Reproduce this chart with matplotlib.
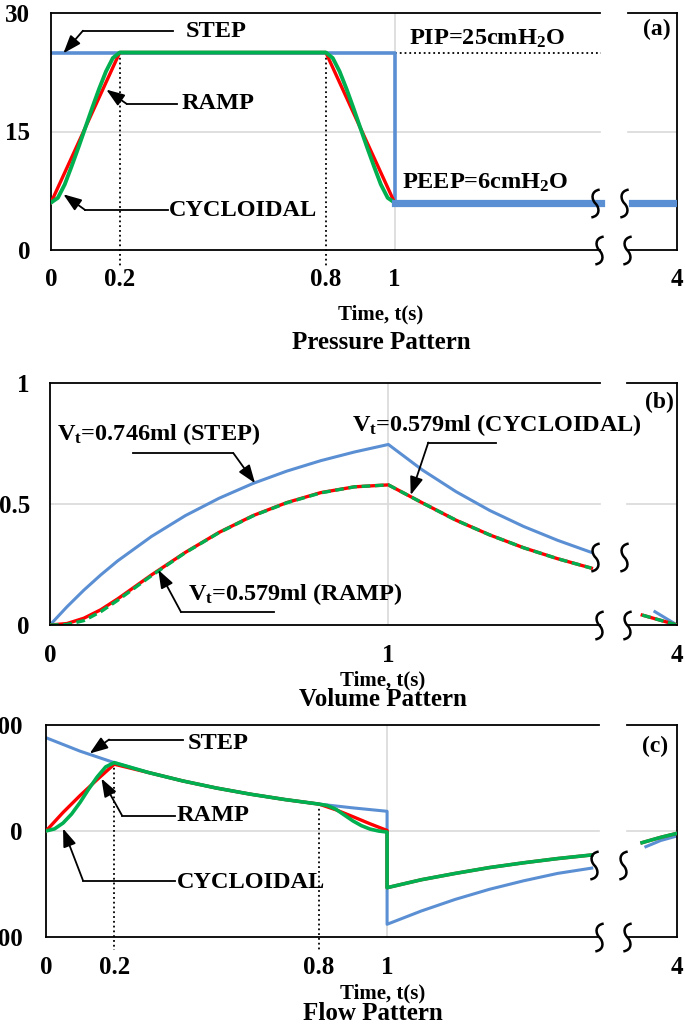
import numpy as np
import matplotlib
matplotlib.use('Agg')
import matplotlib.pyplot as plt
from matplotlib.path import Path

plt.rcParams['font.family'] = ['Liberation Serif', 'DejaVu Serif']
plt.rcParams['font.weight'] = 'bold'
plt.rcParams['mathtext.fontset'] = 'custom'
plt.rcParams['mathtext.rm'] = 'Liberation Serif:bold'
plt.rcParams['mathtext.it'] = 'Liberation Serif:bold'
plt.rcParams['mathtext.bf'] = 'Liberation Serif:bold'

BLUE = '#5B8FD3'
RED = '#FF0000'
GREEN = '#00B050'
GRID = '#D9D9D9'

# ---------------- data ----------------
# (a) pressure, cmH2O
t_step_p = [0, 1.0, 1.0]
p_step = [25, 25, 6]
t_peep = [1.0, 1.6]
t_peep_tail = [3.8, 4.0]
p_peep = [6, 6]
t_ramp_p = [0, 0.2, 0.8, 1.0]
p_ramp = [6, 25, 25, 6]
t_cyc_p = [0, 0.02, 0.04, 0.06, 0.08, 0.10, 0.12, 0.14, 0.16, 0.18, 0.20,
           0.80, 0.82, 0.84, 0.86, 0.88, 0.90, 0.92, 0.94, 0.96, 0.98, 1.00]
p_cyc = [6.0, 6.6, 8.3, 10.6, 13.0, 15.5, 18.0, 20.4, 22.6, 24.3, 25.0,
         25.0, 24.3, 22.6, 20.4, 18.0, 15.5, 13.0, 10.6, 8.3, 6.6, 6.0]

# (b) volume, ml
t_vol = [0, 0.05, 0.1, 0.15, 0.2, 0.3, 0.4, 0.5, 0.6, 0.7, 0.8, 0.9, 1.0,
         1.1, 1.2, 1.3, 1.4, 1.5, 1.6]
v_step = [0, 0.075, 0.144, 0.207, 0.265, 0.366, 0.452, 0.524, 0.585, 0.636,
          0.679, 0.715, 0.746, 0.641, 0.551, 0.473, 0.407, 0.350, 0.300]
v_ramp = [0, 0.006, 0.028, 0.063, 0.108, 0.207, 0.300, 0.383, 0.452, 0.506,
          0.547, 0.571, 0.579, 0.505, 0.433, 0.372, 0.319, 0.274, 0.235]
v_cyc = [0, 0.002, 0.018, 0.055, 0.102, 0.204, 0.299, 0.382, 0.451, 0.505,
         0.546, 0.571, 0.579, 0.505, 0.433, 0.372, 0.319, 0.274, 0.235]
t_vol_tail_step = [3.92, 4.0]
v_tail_step = [0.055, 0.0]
t_vol_tail = [3.874, 4.0]
v_tail = [0.041, 0.0]

# (c) flow
t_flow_step = [0, 0.1, 0.2, 0.3, 0.4, 0.5, 0.6, 0.7, 0.8, 0.9, 1.0,
               1.0, 1.1, 1.2, 1.3, 1.4, 1.5, 1.6]
f_step = [88, 75.3, 64.5, 55.2, 47.3, 40.5, 34.7, 29.7, 25.4, 21.8, 18.6,
          -88, -75.5, -64.5, -55, -47, -40, -35]
t_flow_ramp = [0, 0.05, 0.1, 0.15, 0.2, 0.3, 0.4, 0.5, 0.6, 0.7, 0.8,
               0.85, 0.9, 0.95, 1.0, 1.0, 1.1, 1.2, 1.3, 1.4, 1.5, 1.6]
f_ramp = [0, 17.5, 33.5, 48.5, 63, 55.2, 47.3, 40.5, 34.7, 29.7, 25.4,
          20, 13.5, 6.8, 0.5, -53.5, -46, -40, -34.5, -30, -26, -22.6]
t_flow_cyc = [0, 0.025, 0.05, 0.075, 0.1, 0.125, 0.15, 0.175, 0.2, 0.3, 0.4,
              0.5, 0.6, 0.7, 0.8, 0.825, 0.85, 0.875, 0.9, 0.925, 0.95, 0.975,
              1.0, 1.0, 1.1, 1.2, 1.3, 1.4, 1.5, 1.6]
f_cyc = [0, 2, 7.5, 16, 27, 39.5, 51, 60.5, 64.5, 55.2, 47.3,
         40.5, 34.7, 29.7, 25.4, 24, 20.5, 15, 9.5, 5, 1.8, 0,
         -1, -53.5, -46, -40, -34.5, -30, -26, -22.6]
t_flow_tail_step = [3.886, 3.94, 4.0]
f_tail_step = [-14.8, -9.0, -4.7]
t_flow_tail = [3.872, 3.94, 4.0]
f_tail = [-11, -6.0, -2.2]


def broken_scale(u_end):
    tk = [-10, 0, 1.6, 3.8, 4.0, 10]
    slope = (u_end - 1.69) / 0.2
    uk = [-10, 0, 1.6, 1.69, u_end, u_end + 6 * slope]
    fwd = lambda t: np.interp(t, tk, uk)
    inv = lambda u: np.interp(u, uk, tk)
    return fwd, inv


def break_path():
    verts = [(0.3, 1.0), (-0.35, 0.9), (-0.3, 0.3), (0.0, 0.0),
             (0.3, -0.3), (0.35, -0.9), (-0.3, -1.0)]
    codes = [Path.MOVETO] + [Path.CURVE4] * 6
    return Path(verts, codes)


BRK = break_path()
GAP = (0.877, 0.921)


def frame(ax, u_end, ylim, yticks, ylabels, xticks, xlabels, gridy, ypad, xpad, mark_y):
    fwd, inv = broken_scale(u_end)
    ax.set_xscale('function', functions=(fwd, inv))
    ax.set_xlim(0, 4)
    ax.set_ylim(*ylim)
    ax.set_yticks(yticks)
    ax.set_yticklabels(ylabels)
    ax.set_xticks(xticks)
    ax.set_xticklabels(xlabels)
    ax.tick_params(axis='y', length=0, labelsize=18, pad=ypad)
    ax.tick_params(axis='x', length=0, labelsize=18, pad=xpad)
    ax.spines['top'].set_visible(False)
    ax.spines['bottom'].set_visible(False)
    for s in ['left', 'right']:
        ax.spines[s].set_linewidth(1.3)
    for y in [0, 1]:
        ax.plot([0, GAP[0]], [y, y], transform=ax.transAxes, color='k',
                lw=1.3, clip_on=False, zorder=5)
        ax.plot([GAP[1], 1], [y, y], transform=ax.transAxes, color='k',
                lw=1.3, clip_on=False, zorder=5)
    tr = ax.get_yaxis_transform()
    ax.plot([0, GAP[0]], [gridy, gridy], transform=tr, color=GRID, lw=1.2, zorder=0)
    ax.plot([GAP[1], 1], [gridy, gridy], transform=tr, color=GRID, lw=1.2, zorder=0)
    ax.axvline(1.0, color=GRID, lw=1.2, zorder=0)
    for yy, xs in [(mark_y, [0.869, 0.915]), (0.0, [0.876, 0.92])]:
        for xx in xs:
            ax.plot([xx], [yy], transform=ax.transAxes, marker=BRK, ms=20,
                    mec='k', mfc='none', mew=1.8, ls='none', clip_on=False, zorder=6)


def pointer(ax, text, tip, elbow, end, tpos, fs=17.5):
    ax.plot([elbow[0], end[0]], [elbow[1], end[1]], color='k', lw=1.3, zorder=7)
    ax.annotate('', xy=tip, xytext=elbow,
                arrowprops=dict(arrowstyle='-|>,head_length=0.55,head_width=0.2',
                                color='k', lw=1.3, shrinkA=0, shrinkB=0,
                                mutation_scale=20), zorder=7)
    ax.text(tpos[0], tpos[1], text, ha='left', va='center', fontsize=fs, zorder=7)


W, H = 685, 1025
fig = plt.figure(figsize=(W / 100, H / 100), dpi=100)


def add_axes(left, right, top, bottom):
    return fig.add_axes([left / W, 1 - bottom / H, (right - left) / W, (bottom - top) / H])


# ---------------- (a) pressure ----------------
ax1 = add_axes(51, 677, 13, 250)
frame(ax1, 1.822, (0, 30), [0, 15, 30], ['0', '15', '30'],
      [0, 0.2, 0.8, 1, 4], ['0', '0.2', '0.8', '1', '4'], 15, 15, 13, 0.2)
ax1.plot(t_step_p, p_step, color=BLUE, lw=2.6, zorder=2)
ax1.plot(t_ramp_p, p_ramp, color=RED, lw=2.4, zorder=3)
ax1.plot(t_cyc_p, p_cyc, color=GREEN, lw=2.8, zorder=3.5)
ax1.plot(t_peep, p_peep, color=BLUE, lw=5.2, solid_capstyle='projecting', zorder=4)
ax1.plot(t_peep_tail, p_peep, color=BLUE, lw=5.2, zorder=4)
ax1.plot([1.0, 1.6], [25, 25], color='k', ls=':', lw=1.3, zorder=1)
for tv in [0.2, 0.8]:
    ax1.plot([tv, tv], [25, -2.3], color='k', ls=':', lw=1.3, clip_on=False, zorder=1)
pointer(ax1, 'STEP', (0.036, 24.9), (0.093, 27.76), (0.354, 27.76), (0.393, 27.7))
pointer(ax1, 'RAMP', (0.161, 20.3), (0.220, 18.5), (0.366, 18.5), (0.379, 18.5))
pointer(ax1, 'CYCLOIDAL', (0.036, 7.05), (0.0995, 5.06), (0.341, 5.06), (0.344, 5.06))
ax1.text(1.041, 26.7, 'PIP=25cmH$_{\\mathrm{2}}$O', ha='left', va='center', fontsize=17.5)
ax1.text(1.022, 8.5, 'PEEP=6cmH$_{\\mathrm{2}}$O', ha='left', va='center', fontsize=17.5)
ax1.text(0.968, 0.932, '(a)', transform=ax1.transAxes, ha='center', va='center', fontsize=17)
fig.text(381 / W, 1 - 314 / H, 'Time, t(s)', ha='center', va='center', fontsize=15)
fig.text(381 / W, 1 - 342 / H, 'Pressure Pattern', ha='center', va='center', fontsize=18)

# ---------------- (b) volume ----------------
ax2 = add_axes(50, 677, 383, 625)
frame(ax2, 1.853, (0, 1), [0, 0.5, 1], ['0', '0.5', '1'],
      [0, 1, 4], ['0', '1', '4'], 0.5, 14.5, 14, 0.281)
ax2.plot(t_vol, v_step, color=BLUE, lw=2.2, zorder=2)
ax2.plot(t_vol_tail_step, v_tail_step, color=BLUE, lw=2.2, zorder=2)
ax2.plot(t_vol, v_ramp, color=RED, lw=2.4, zorder=3)
ax2.plot(t_vol_tail, v_tail, color=RED, lw=2.4, zorder=3)
ax2.plot(t_vol, v_cyc, color=GREEN, lw=2.4, ls=(0, (2.6, 1.4)), zorder=3.5)
ax2.plot(t_vol_tail, v_tail, color=GREEN, lw=2.4, ls=(0, (2.6, 1.4)), zorder=3.5)
pointer(ax2, 'V$_{\\mathrm{t}}$=0.746ml (STEP)', (0.606, 0.586), (0.542, 0.710),
        (0.246, 0.710), (0.02, 0.79))
pointer(ax2, 'V$_{\\mathrm{t}}$=0.579ml (CYCLOIDAL)', (1.066, 0.537), (1.118, 0.754),
        (1.318, 0.754), (0.892, 0.826))
pointer(ax2, 'V$_{\\mathrm{t}}$=0.579ml (RAMP)', (0.320, 0.228), (0.387, 0.054),
        (0.663, 0.054), (0.409, 0.13))
ax2.text(0.972, 0.921, '(b)', transform=ax2.transAxes, ha='center', va='center', fontsize=17)
fig.text(383 / W, 1 - 680 / H, 'Time, t(s)', ha='center', va='center', fontsize=15)
fig.text(383 / W, 1 - 700 / H, 'Volume Pattern', ha='center', va='center', fontsize=18)

# ---------------- (c) flow ----------------
ax3 = add_axes(46, 677, 725, 937)
frame(ax3, 1.85, (-100, 100), [-100, 0, 100], ['-100', '0', '100'],
      [0, 0.2, 0.8, 1, 4], ['0', '0.2', '0.8', '1', '4'], 0, 17, 14, 0.34)
ax3.plot(t_flow_step, f_step, color=BLUE, lw=2.2, zorder=2)
ax3.plot(t_flow_tail_step, f_tail_step, color=BLUE, lw=2.2, zorder=2)
ax3.plot(t_flow_ramp, f_ramp, color=RED, lw=2.4, zorder=3)
ax3.plot(t_flow_tail, f_tail, color=RED, lw=2.4, zorder=3)
ax3.plot(t_flow_cyc, f_cyc, color=GREEN, lw=2.6, zorder=3.5)
ax3.plot(t_flow_tail, f_tail, color=GREEN, lw=2.6, zorder=3.5)
ax3.plot([0.2, 0.2], [64.5, -112], color='k', ls=':', lw=1.3, clip_on=False, zorder=1)
ax3.plot([0.8, 0.8], [25.4, -112], color='k', ls=':', lw=1.3, clip_on=False, zorder=1)
pointer(ax3, 'STEP', (0.128, 73.1), (0.185, 86.3), (0.403, 86.3), (0.416, 82.5))
pointer(ax3, 'RAMP', (0.1625, 49.5), (0.223, 14.6), (0.378, 14.6), (0.384, 14.6))
pointer(ax3, 'CYCLOIDAL', (0.05, 2.4), (0.1085, -46.7), (0.378, -46.7), (0.384, -48.6))
ax3.text(0.965, 0.901, '(c)', transform=ax3.transAxes, ha='center', va='center', fontsize=17)
fig.text(383 / W, 1 - 993 / H, 'Time, t(s)', ha='center', va='center', fontsize=15)
fig.text(373 / W, 1 - 1013 / H, 'Flow Pattern', ha='center', va='center', fontsize=18)

fig.savefig('out.png', dpi=100)
